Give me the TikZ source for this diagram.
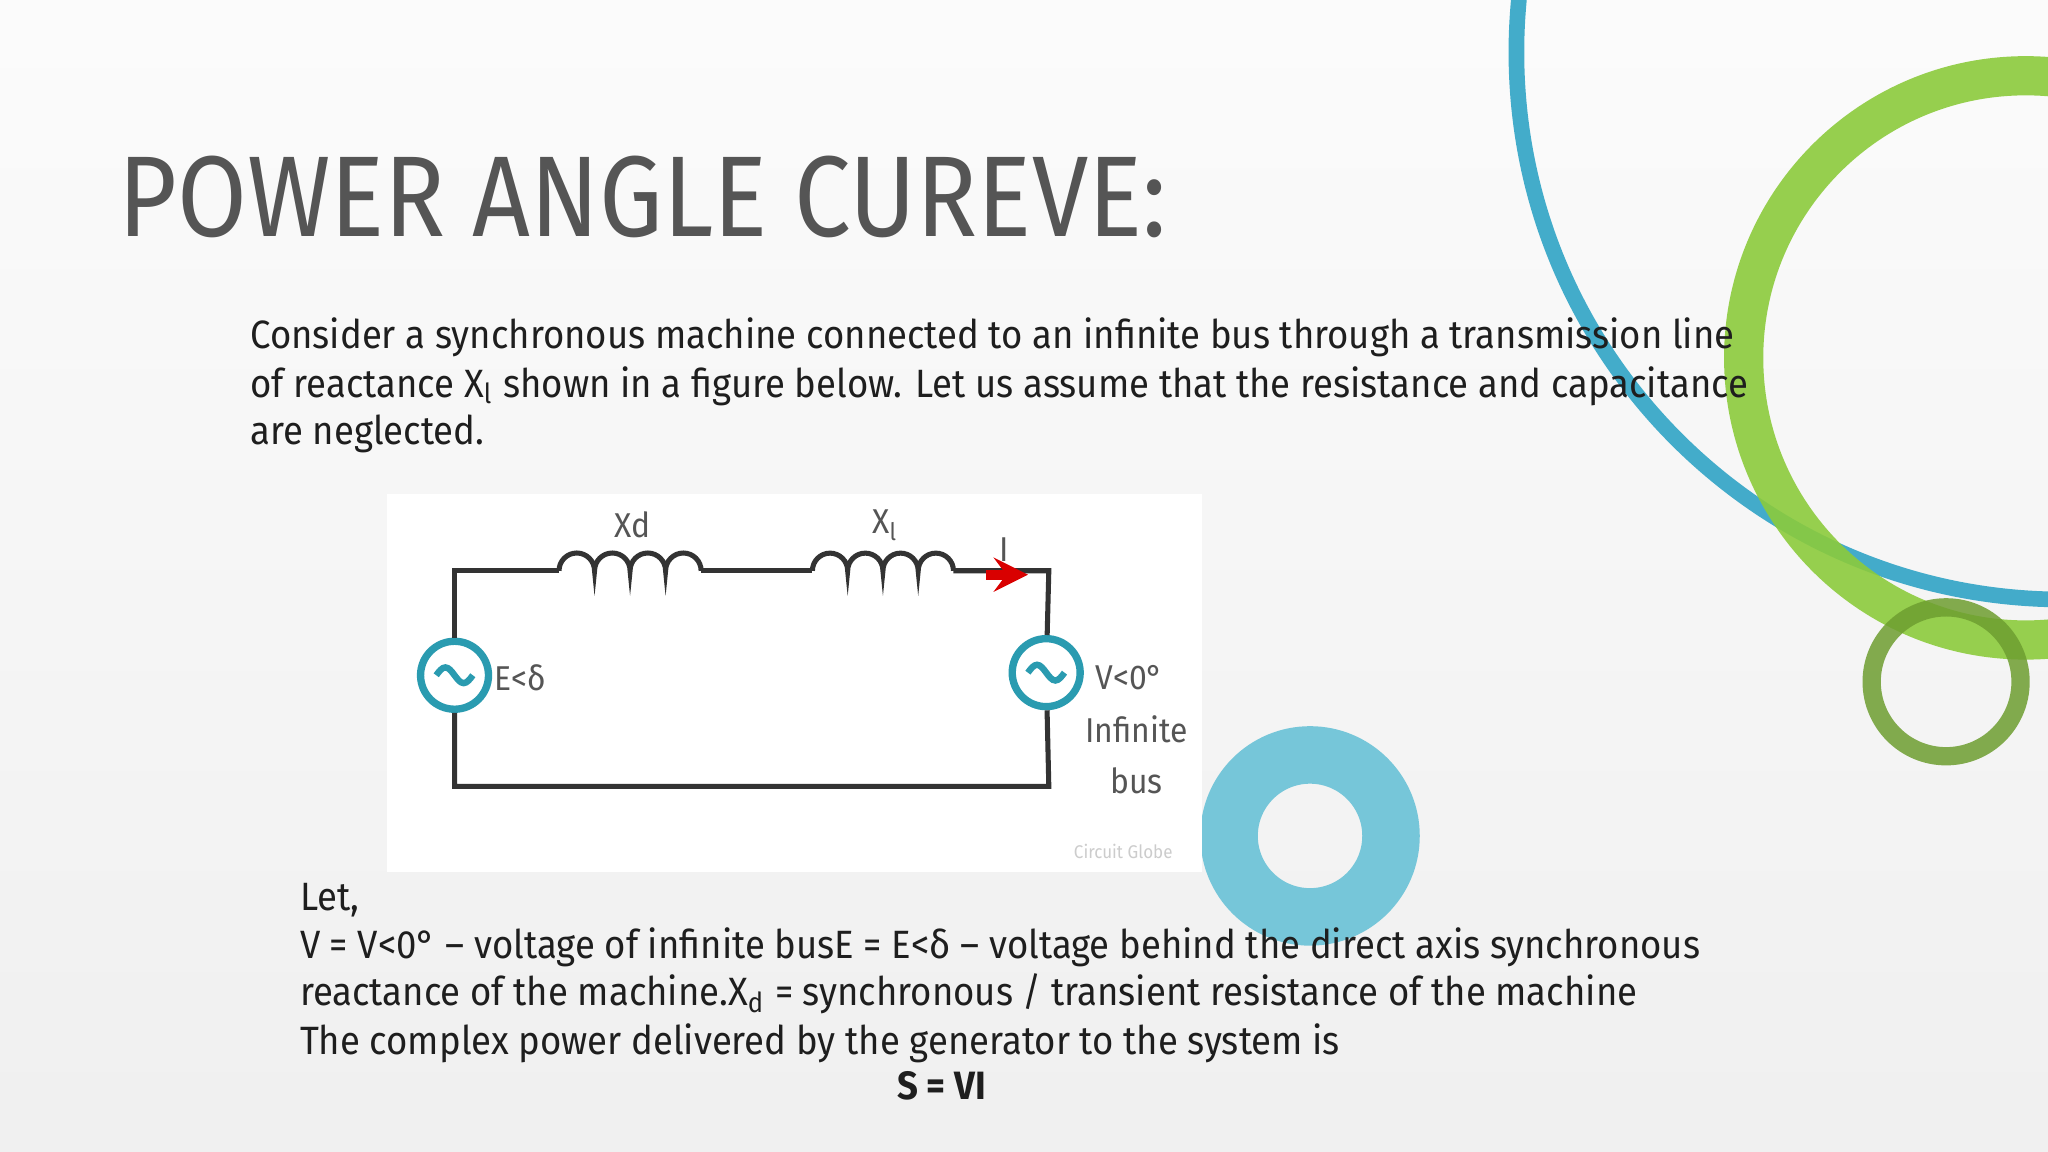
\documentclass[tikz,border=0pt]{standalone}
\usepackage{fontspec}
\setmainfont{Fira Sans}[FakeStretch=0.925]
\newfontfamily\titlefont{Fira Sans}[FakeStretch=0.88]
\definecolor{txt}{HTML}{1E1E1E}
\definecolor{ttl}{HTML}{555555}
\definecolor{ringblue}{HTML}{3AA8C8}
\definecolor{ringgreen}{HTML}{8CCB3C}
\definecolor{olive}{HTML}{6E9E30}
\definecolor{donut}{HTML}{70C4D8}
\definecolor{src}{HTML}{2A9BB0}
\definecolor{wire}{HTML}{333333}
\begin{document}
\begin{tikzpicture}[x=0.01cm,y=-0.01cm,
  body/.style={anchor=base west,text=txt,font=\fontsize{8.6}{10.5}\selectfont,inner sep=0},
  wirestyle/.style={draw=wire,line width=1.1},
  srcnode/.style={circle,draw=src,line width=1.6,minimum size=0.52cm,inner sep=0,fill=white},
  clabel/.style={text=ttl,font=\fontsize{7.5}{9}\selectfont,inner sep=0}]
\shade[top color=white!97!gray,bottom color=white!88!gray] (0,0) rectangle (1568,882);
\useasboundingbox (0,0) rectangle (1568,882);
% decorative rings
\begin{scope}
\clip (0,0) rectangle (1568,882);
\draw[ringblue,line width=0.12cm,opacity=0.95] (1580,40) circle[radius=419];
\draw[ringgreen,line width=0.30cm,opacity=0.9] (1551,274) circle[radius=216];
\draw[olive,line width=0.14cm,opacity=0.85] (1490,522) circle[radius=57];
\draw[donut,line width=0.44cm,opacity=0.95] (1003,640) circle[radius=62];
\end{scope}
% title
\node[anchor=base west,text=ttl,inner sep=0,font=\titlefont\fontsize{25}{30}\selectfont] (title) at (90,181) {POWER ANGLE CUREVE:};
% paragraph
\node[body] (p1) at (191,267) {Consider a synchronous machine connected to an infinite bus through a transmission line};
\node[body] (p2) at (191,304) {of reactance X\textsubscript{l} shown in a figure below. Let us assume that the resistance and capacitance};
\node[body] (p3) at (191,340) {are neglected.};
% circuit picture
\fill[white] (296,378) rectangle (920,668);
\coordinate (tl) at (348,437);
\coordinate (bl) at (348,602);
\coordinate (br) at (803,602);
\coordinate (tr) at (803,437);
\coordinate (xd1) at (428,437);
\coordinate (xd2) at (537,437);
\coordinate (xl1) at (622,437);
\coordinate (xl2) at (730,437);
\node[srcnode] (E) at (348,517) {};
\node[srcnode] (V) at (801,515) {};
\draw[wirestyle] (E) -- (tl) -- (xd1);
\draw[wirestyle] (xd1) arc[start angle=180,end angle=360,radius=13.6] arc[start angle=180,end angle=360,radius=13.6] arc[start angle=180,end angle=360,radius=13.6] arc[start angle=180,end angle=360,radius=13.6];
\draw[wirestyle] (xd2) -- (xl1);
\draw[wirestyle] (xl1) arc[start angle=180,end angle=360,radius=13.5] arc[start angle=180,end angle=360,radius=13.5] arc[start angle=180,end angle=360,radius=13.5] arc[start angle=180,end angle=360,radius=13.5];
\draw[wirestyle] (xl2) -- (tr) -- (V);
\draw[wirestyle] (E) -- (bl) -- (br) -- (V);
\draw[src,line width=1.4] ([xshift=-0.14cm]E.center) sin ([xshift=-0.07cm,yshift=0.06cm]E.center) cos (E.center) sin ([xshift=0.07cm,yshift=-0.06cm]E.center) cos ([xshift=0.14cm]E.center);
\draw[src,line width=1.4] ([xshift=-0.14cm]V.center) sin ([xshift=-0.07cm,yshift=0.06cm]V.center) cos (V.center) sin ([xshift=0.07cm,yshift=-0.06cm]V.center) cos ([xshift=0.14cm]V.center);
\coordinate (a1) at (755,440);
\coordinate (a2) at (787,440);
\draw[red!85!black,line width=2.2,-stealth] (a1) -- (a2);
\node[clabel] (lxd) at (484,402) {Xd};
\node[clabel] (lxl) at (678,402) {X\textsubscript{l}};
\node[clabel] (li) at (769,421) {I};
\node[clabel,anchor=west] (le) at (378,519) {E<δ};
\node[clabel,anchor=west] (lv) at (838,519) {V<0°};
\node[clabel,align=center] (lbus) at (870,578) {Infinite\\[2pt]bus};
\node[clabel,text=gray!40,font=\fontsize{4}{5}\selectfont] (cg) at (860,652) {Circuit Globe};
% bottom text
\node[body] (b1) at (229,697) {Let,};
\node[body] (b2) at (229,734) {V = V<0° – voltage of infinite busE = E<δ – voltage behind the direct axis synchronous};
\node[body] (b3) at (229,770) {reactance of the machine.X\textsubscript{d} = synchronous / transient resistance of the machine};
\node[body] (b4) at (229,807) {The complex power delivered by the generator to the system is};
\node[body,anchor=base,font=\bfseries\fontsize{8.6}{10.5}\selectfont] (b5) at (721,842) {S = VI};
\end{tikzpicture}
\end{document}
